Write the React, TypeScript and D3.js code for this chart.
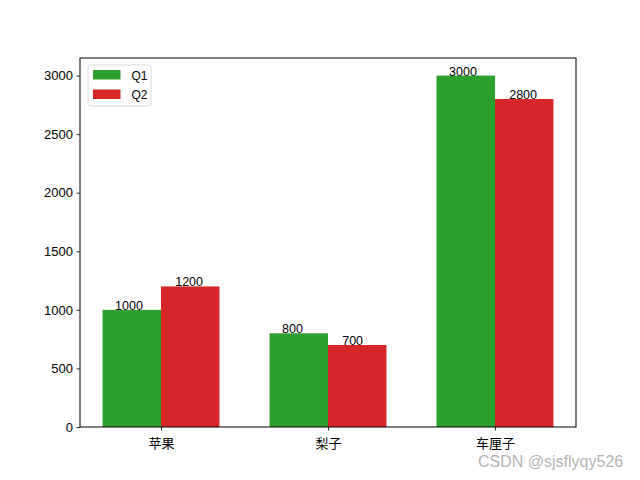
import React, { useEffect, useRef } from "react";
import { select, scaleLinear, axisBottom, axisLeft } from "d3";

const categories = ["苹果", "梨子", "车厘子"];
const q1Values = [1000, 800, 3000];
const q2Values = [1200, 700, 2800];
const seriesNames = ["Q1", "Q2"];
const yTicks = [0, 500, 1000, 1500, 2000, 2500, 3000];

const W = 640;
const H = 480;
const margin = { top: 58, right: 64, bottom: 53, left: 80 };
const barWidth = 0.35;
const colors = ["#2ca02c", "#d62728"];
const font = "'Liberation Sans', 'Noto Sans CJK SC', sans-serif";

const App: React.FC = () => {
  const svgRef = useRef<SVGSVGElement>(null);

  useEffect(() => {
    const svg = select(svgRef.current!);
    svg.selectAll("*").remove();

    const xScale = scaleLinear()
      .domain([-0.485, 2.485])
      .range([margin.left, W - margin.right]);
    const yScale = scaleLinear()
      .domain([0, 3150])
      .range([H - margin.bottom, margin.top]);

    const series = [q1Values, q2Values];
    const offsets = [-barWidth / 2, barWidth / 2];
    const labelShift = [-0.275, 0.085];

    // bars
    series.forEach((vals, s) => {
      svg
        .append("g")
        .selectAll("rect")
        .data(vals)
        .join("rect")
        .attr("x", (_, i) => xScale(i + offsets[s] - barWidth / 2))
        .attr("width", xScale(barWidth) - xScale(0))
        .attr("y", (d) => yScale(d))
        .attr("height", (d) => yScale(0) - yScale(d))
        .attr("fill", colors[s]);
    });

    // value labels
    series.forEach((vals, s) => {
      svg
        .append("g")
        .selectAll("text")
        .data(vals)
        .join("text")
        .attr("x", (_, i) => xScale(i + labelShift[s]))
        .attr("y", (d) => yScale(d))
        .attr("font-family", font)
        .attr("font-size", 12.5)
        .attr("fill", "black")
        .text((d) => String(d));
    });

    // axes
    const xAxis = svg
      .append("g")
      .attr("transform", `translate(0, ${H - margin.bottom})`)
      .call(
        axisBottom(xScale)
          .tickValues(categories.map((_, i) => i))
          .tickFormat((d) => categories[d as number])
          .tickSize(3.5)
          .tickPadding(8)
      );
    const yAxis = svg
      .append("g")
      .attr("transform", `translate(${margin.left}, 0)`)
      .call(
        axisLeft(yScale)
          .tickValues(yTicks)
          .tickFormat((d) => String(d))
          .tickSize(3.5)
          .tickPadding(3.5)
      );

    [xAxis, yAxis].forEach((ax) => {
      ax.select(".domain").remove();
      ax.selectAll("text")
        .attr("font-family", font)
        .attr("font-size", 13)
        .attr("fill", "black");
      ax.selectAll("line").attr("stroke", "black").attr("stroke-width", 0.8);
    });

    // frame
    svg
      .append("rect")
      .attr("x", margin.left)
      .attr("y", margin.top)
      .attr("width", W - margin.left - margin.right)
      .attr("height", H - margin.top - margin.bottom)
      .attr("fill", "none")
      .attr("stroke", "black")
      .attr("stroke-width", 1);

    // legend
    const legend = svg.append("g").attr("transform", `translate(88, 65)`);
    legend
      .append("rect")
      .attr("width", 63)
      .attr("height", 41)
      .attr("rx", 2)
      .attr("fill", "white")
      .attr("stroke", "#d0d0d0")
      .attr("stroke-width", 0.8);
    seriesNames.forEach((name, s) => {
      legend
        .append("rect")
        .attr("x", 5)
        .attr("y", 5 + s * 19.5)
        .attr("width", 27.5)
        .attr("height", 9.5)
        .attr("fill", colors[s]);
      legend
        .append("text")
        .attr("x", 43.5)
        .attr("y", 14.5 + s * 19.5)
        .attr("font-family", font)
        .attr("font-size", 12)
        .attr("fill", "black")
        .text(name);
    });

    // watermark
    svg
      .append("text")
      .attr("x", 478)
      .attr("y", 467)
      .attr("font-family", font)
      .attr("font-size", 16)
      .attr("fill", "#b4b4b4")
      .text("CSDN @sjsflyqy526");
  }, []);

  return (
    <svg
      ref={svgRef}
      width={W}
      height={H}
      style={{ position: "fixed", left: 0, top: 0, background: "white" }}
    />
  );
};

export default App;
